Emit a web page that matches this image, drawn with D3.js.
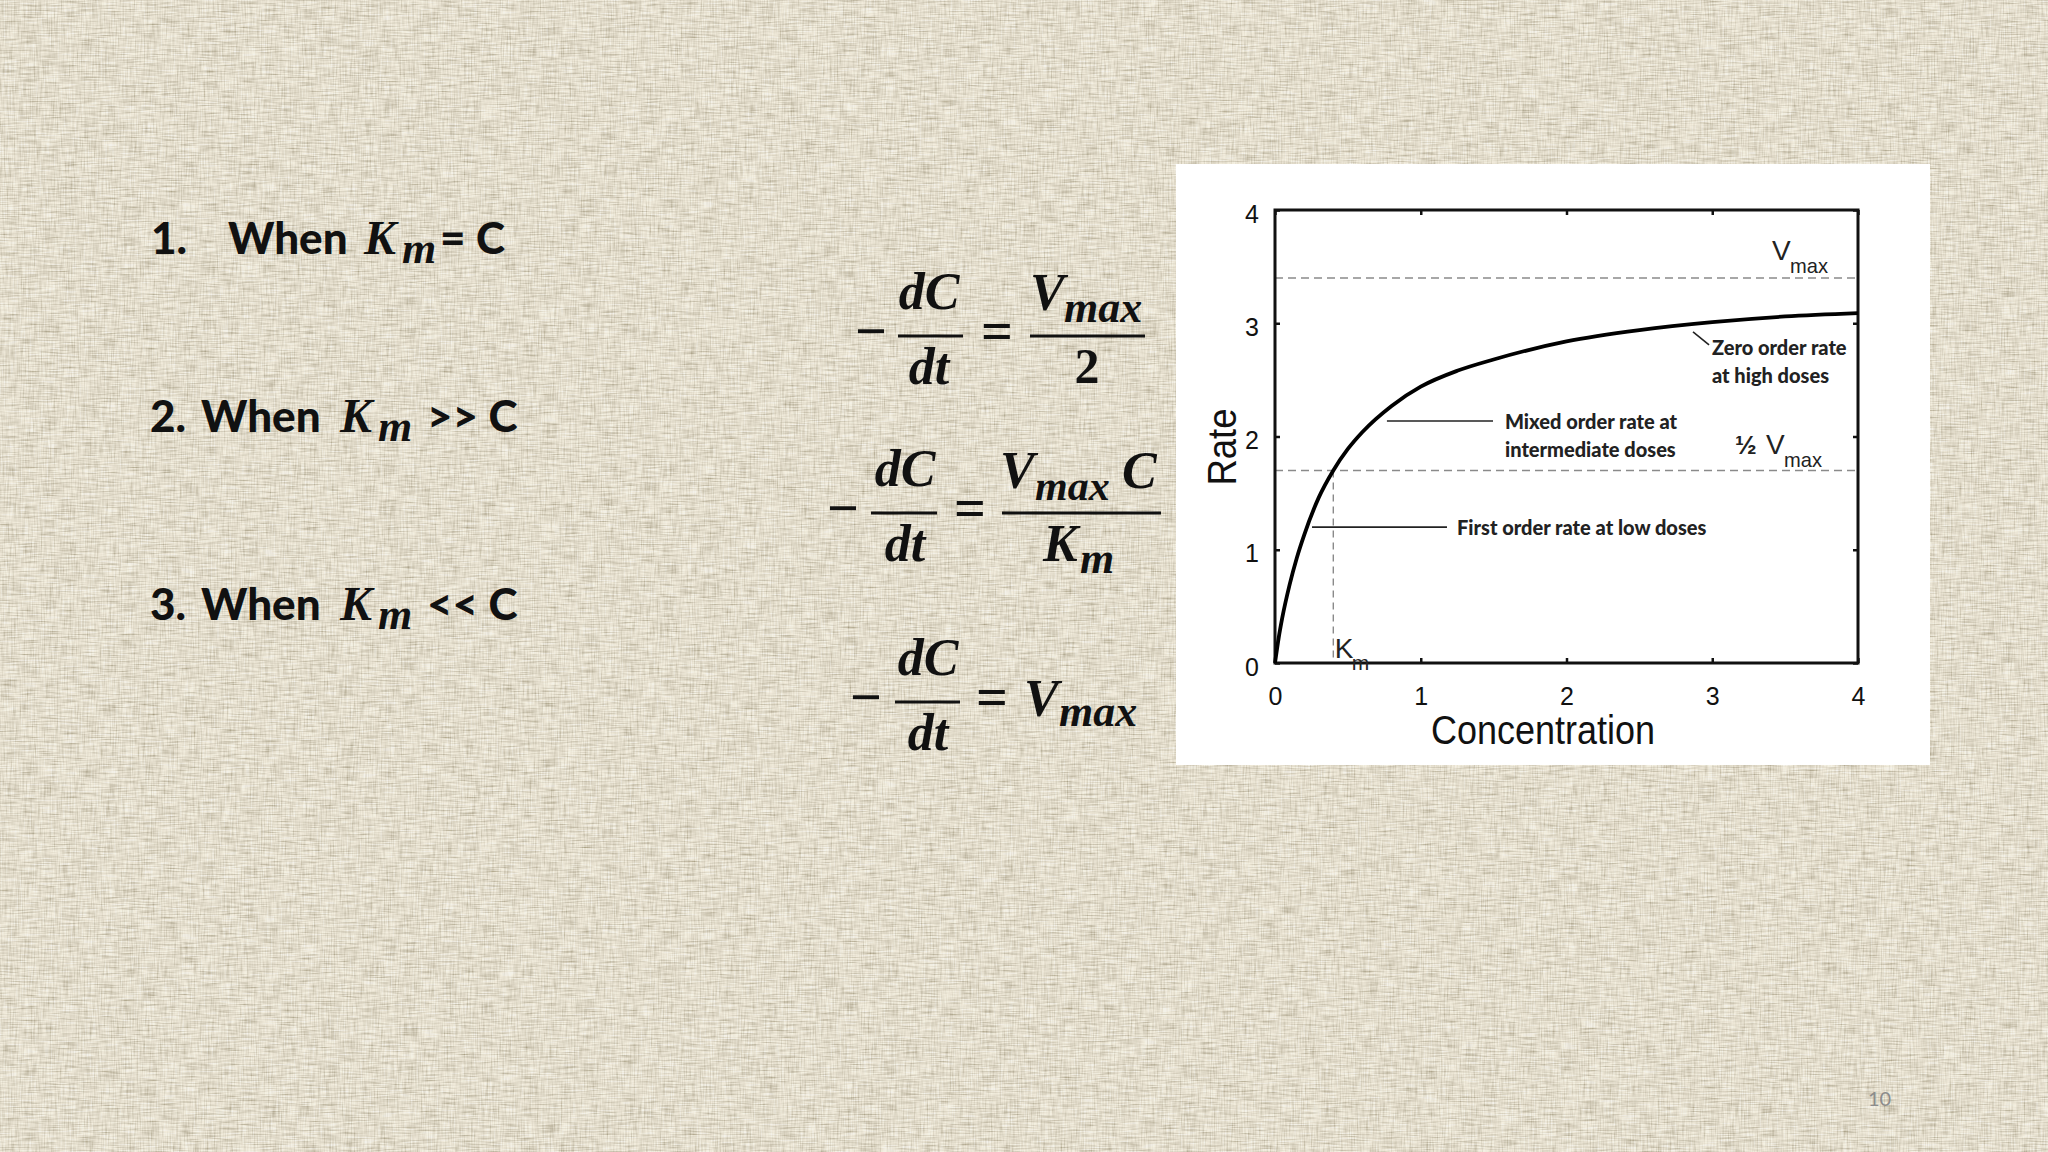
<!DOCTYPE html>
<html>
<head>
<meta charset="utf-8">
<script src="https://cdn.jsdelivr.net/npm/d3@7"></script>
<style>
  body { margin: 0; overflow: hidden; background: #d2c8ad; }
  svg { display: block; }
</style>
</head>
<body>
<div id="slide"></div>
<script>
// curve (Concentration -> Rate)
var concentration = [0, 0.025, 0.05, 0.1, 0.15, 0.2, 0.3, 0.4, 0.5, 0.6, 0.8, 1.0, 1.25, 1.5, 2.0, 2.5, 3.0, 3.5, 4.0];
var rate = [0, 0.22, 0.40, 0.69, 0.93, 1.13, 1.46, 1.70, 1.89, 2.04, 2.27, 2.44, 2.58, 2.68, 2.84, 2.94, 3.01, 3.06, 3.09];
var xTicks = [0, 1, 2, 3, 4];
var yTicks = [0, 1, 2, 3, 4];
var vmax = 3.4;
var halfVmax = 1.7;
var km = 0.4;

var caseNumbers = ["1.", "2.", "3."];
var caseRelations = ["= C", ">> C", "<< C"];

var W = 2048, H = 1152;
var svg = d3.select("#slide").append("svg")
  .attr("width", W)
  .attr("height", H);

var defs = svg.append("defs");

// linen texture: horizontal and vertical streak noise
function linenFilter(id, freq, seed) {
  var f = defs.append("filter").attr("id", id)
    .attr("x", 0).attr("y", 0).attr("width", "100%").attr("height", "100%");
  f.append("feTurbulence")
    .attr("type", "fractalNoise")
    .attr("baseFrequency", freq)
    .attr("numOctaves", 2)
    .attr("seed", seed);
  f.append("feColorMatrix")
    .attr("type", "matrix")
    .attr("values",
      "1.4 0 0 0 0.12 " +
      "1.4 0 0 0 0.08 " +
      "1.4 0 0 0 -0.02 " +
      "0 0 0 0 1");
}
linenFilter("linenH", "0.7 0.05", 4);
linenFilter("linenV", "0.05 0.7", 9);

svg.append("rect").attr("width", W).attr("height", H).attr("fill", "#d2c8ad");
svg.append("rect").attr("width", W).attr("height", H).attr("filter", "url(#linenH)").attr("opacity", 0.55);
svg.append("rect").attr("width", W).attr("height", H).attr("filter", "url(#linenV)").attr("opacity", 0.45);

var calibri = "Lato, 'Open Sans', sans-serif";
var mathFont = "'Liberation Serif', 'DejaVu Serif', serif";
var arial = "'Liberation Sans', Arial, sans-serif";

// ---- left column: the three cases
var caseBaselines = [254, 432, 620];
var caseG = svg.append("g").attr("fill", "#111");
function caseText(xPos, yPos, str) {
  return caseG.append("text").attr("x", xPos).attr("y", yPos)
    .attr("font-family", calibri).attr("font-weight", 900).attr("font-size", 44)
    .text(str);
}
caseNumbers.forEach(function(num, i) {
  var y = caseBaselines[i];
  var first = i === 0;
  caseText(first ? 151 : 150, y, num);
  caseText(first ? 228 : 201, y, "When");
  var kx = first ? 364 : 340;
  caseG.append("text").attr("x", kx).attr("y", y)
    .attr("font-family", mathFont).attr("font-weight", 700).attr("font-style", "italic")
    .attr("font-size", 48).text("K");
  caseG.append("text").attr("x", kx + 38).attr("y", y + 9)
    .attr("font-family", mathFont).attr("font-weight", 700).attr("font-style", "italic")
    .attr("font-size", 44).text("m");
  caseText(first ? 440 : 427, y, caseRelations[i]);
});

// ---- middle column: rate equations
var eqG = svg.append("g").attr("fill", "#111");

function mathText(x, y, str, opts) {
  opts = opts || {};
  return eqG.append("text")
    .attr("x", x).attr("y", y)
    .attr("text-anchor", opts.anchor || "start")
    .attr("font-family", mathFont)
    .attr("font-weight", 700)
    .attr("font-style", opts.upright ? "normal" : "italic")
    .attr("font-size", opts.size || 50)
    .text(str);
}
function bar(x1, x2, y) {
  eqG.append("line").attr("x1", x1).attr("x2", x2).attr("y1", y).attr("y2", y)
    .attr("stroke", "#111").attr("stroke-width", 3.2);
}
function dCdt(cx, barY, x1, x2) {
  mathText(cx, barY - 27, "dC", { anchor: "middle", size: 52 });
  mathText(cx, barY + 48, "dt", { anchor: "middle", size: 52 });
  bar(x1, x2, barY);
}
function signs(minusX, eqX, barY) {
  mathText(minusX, barY + 14, "\u2212", { anchor: "middle", upright: true, size: 56 });
  mathText(eqX, barY + 14, "=", { anchor: "middle", upright: true, size: 56 });
}

// eq 1: -dC/dt = Vmax / 2
signs(871, 997, 336);
dCdt(929, 336, 898, 963);
mathText(1030, 310, "V", { size: 52 });
mathText(1064, 322, "max", { size: 44 });
mathText(1087, 383, "2", { anchor: "middle", upright: true, size: 50 });
bar(1030, 1145, 336);

// eq 2: -dC/dt = Vmax C / Km
signs(843, 970, 513);
dCdt(905, 513, 871, 937);
mathText(1000, 488, "V", { size: 52 });
mathText(1035, 500, "max", { size: 42 });
mathText(1122, 488, "C", { size: 52 });
mathText(1043, 561, "K", { size: 52 });
mathText(1080, 573, "m", { size: 44 });
bar(1002, 1161, 513);

// eq 3: -dC/dt = Vmax
signs(866, 992, 702);
dCdt(928, 702, 895, 960);
mathText(1024, 716, "V", { size: 52 });
mathText(1059, 726, "max", { size: 44 });

// ---- chart
svg.append("rect")
  .attr("x", 1176).attr("y", 164)
  .attr("width", 754).attr("height", 601)
  .attr("fill", "#fff");

var x = d3.scaleLinear().domain([0, 4]).range([1275, 1858]);
var y = d3.scaleLinear().domain([0, 4]).range([663, 210]);

var chart = svg.append("g");

// reference lines
var dash = "8,5";
chart.append("line")
  .attr("x1", x(0)).attr("x2", x(4)).attr("y1", y(vmax)).attr("y2", y(vmax))
  .attr("stroke", "#8a8a8a").attr("stroke-width", 1.6).attr("stroke-dasharray", dash);
chart.append("line")
  .attr("x1", x(0)).attr("x2", x(4)).attr("y1", y(halfVmax)).attr("y2", y(halfVmax))
  .attr("stroke", "#8a8a8a").attr("stroke-width", 1.6).attr("stroke-dasharray", dash);
chart.append("line")
  .attr("x1", x(km)).attr("x2", x(km)).attr("y1", y(halfVmax)).attr("y2", y(0))
  .attr("stroke", "#8a8a8a").attr("stroke-width", 1.4).attr("stroke-dasharray", "7,5");

// axes with inward ticks
function styleAxis(g) {
  g.select(".domain").remove();
  g.selectAll(".tick line").attr("stroke", "#111").attr("stroke-width", 2.5);
  g.selectAll("text").attr("font-family", arial).attr("font-size", 25).attr("fill", "#111");
}
chart.append("g")
  .attr("transform", "translate(0," + y(0) + ")")
  .call(d3.axisBottom(x).tickValues(xTicks).tickSize(-5).tickPadding(24).tickFormat(d3.format("d")))
  .call(styleAxis);
chart.append("g")
  .attr("transform", "translate(0," + y(4) + ")")
  .call(d3.axisTop(x).tickValues(xTicks).tickSize(-5).tickFormat(""))
  .call(styleAxis);
chart.append("g")
  .attr("transform", "translate(" + x(0) + ",0)")
  .call(d3.axisLeft(y).tickValues(yTicks).tickSize(-5).tickPadding(16).tickFormat(d3.format("d")))
  .call(styleAxis)
  .selectAll("text").attr("dy", "0.48em");
chart.append("g")
  .attr("transform", "translate(" + x(4) + ",0)")
  .call(d3.axisRight(y).tickValues(yTicks).tickSize(-5).tickFormat(""))
  .call(styleAxis);

chart.append("rect")
  .attr("x", x(0)).attr("y", y(4))
  .attr("width", x(4) - x(0)).attr("height", y(0) - y(4))
  .attr("fill", "none").attr("stroke", "#111").attr("stroke-width", 3);

// rate curve
var points = concentration.map(function(c, i) { return [c, rate[i]]; });
chart.append("path")
  .datum(points)
  .attr("fill", "none")
  .attr("stroke", "#000")
  .attr("stroke-width", 3.8)
  .attr("d", d3.line()
    .x(function(d) { return x(d[0]); })
    .y(function(d) { return y(d[1]); })
    .curve(d3.curveMonotoneX));

// axis titles
chart.append("text")
  .attr("transform", "translate(1236,447) rotate(-90)")
  .attr("text-anchor", "middle")
  .attr("font-family", arial).attr("font-size", 40).attr("fill", "#111")
  .attr("textLength", 77).attr("lengthAdjust", "spacingAndGlyphs")
  .text("Rate");
chart.append("text")
  .attr("x", 1431).attr("y", 744)
  .attr("font-family", arial).attr("font-size", 40).attr("fill", "#111")
  .attr("textLength", 224).attr("lengthAdjust", "spacingAndGlyphs")
  .text("Concentration");

// Vmax, 1/2 Vmax and Km labels
function subLabel(xPos, yBase, main, sub, subDx) {
  chart.append("text").attr("x", xPos).attr("y", yBase)
    .attr("font-family", arial).attr("font-size", 28).attr("fill", "#222")
    .text(main);
  chart.append("text").attr("x", xPos + subDx).attr("y", yBase + 13)
    .attr("font-family", arial).attr("font-size", 21).attr("fill", "#222")
    .attr("textLength", 38).attr("lengthAdjust", "spacingAndGlyphs")
    .text(sub);
}
subLabel(x(3.41), y(3.56), "V", "max", 18);
chart.append("text").attr("x", x(3.156)).attr("y", y(1.845))
  .attr("font-family", arial).attr("font-weight", 700).attr("font-size", 26).attr("fill", "#222")
  .text("\u00bd");
subLabel(x(3.156) + 31, y(1.845), "V", "max", 18);
chart.append("text").attr("x", x(0.41)).attr("y", y(0.044))
  .attr("font-family", arial).attr("font-size", 28).attr("fill", "#222").text("K");
chart.append("text").attr("x", x(0.41) + 17).attr("y", y(0.044) + 12)
  .attr("font-family", arial).attr("font-size", 21).attr("fill", "#222").text("m");

// annotations with leader lines
function leader(c1, r1, c2, r2) {
  chart.append("line")
    .attr("x1", x(c1)).attr("y1", y(r1)).attr("x2", x(c2)).attr("y2", y(r2))
    .attr("stroke", "#222").attr("stroke-width", 1.6);
}
function note(c, r, lines) {
  var t = chart.append("text")
    .attr("x", x(c)).attr("y", y(r))
    .attr("font-family", calibri).attr("font-weight", 900)
    .attr("font-size", 20).attr("fill", "#222");
  lines.forEach(function(line, i) {
    t.append("tspan").attr("x", x(c)).attr("dy", i === 0 ? 0 : 28).text(line);
  });
}
leader(2.868, 2.923, 2.978, 2.808);
note(2.998, 2.72, ["Zero order rate", "at high doses"]);
leader(0.768, 2.137, 1.496, 2.137);
note(1.578, 2.066, ["Mixed order rate at", "intermediate doses"]);
leader(0.254, 1.20, 1.18, 1.20);
note(1.249, 1.13, ["First order rate at low doses"]);

// slide number
svg.append("text")
  .attr("x", 1868).attr("y", 1106)
  .attr("font-family", calibri).attr("font-size", 20).attr("fill", "#8c8c8c")
  .text("10");
</script>
</body>
</html>
